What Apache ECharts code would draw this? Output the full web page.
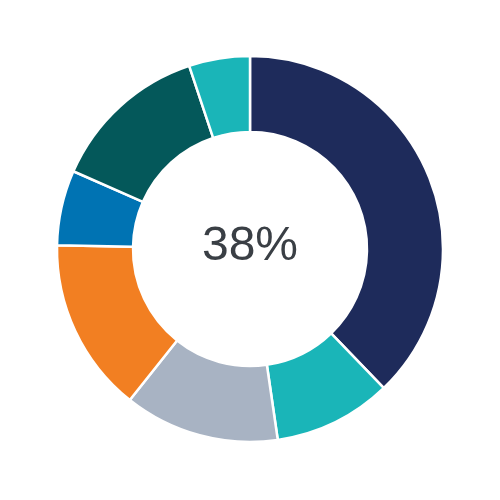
<!DOCTYPE html>
<html>
<head>
<meta charset="utf-8">
<script src="https://cdn.jsdelivr.net/npm/echarts@6/dist/echarts.min.js"></script>
<style>html,body{margin:0;padding:0;background:#fff}#c{width:500px;height:500px}</style>
</head>
<body>
<div id="c"></div>
<script>
const categories = ['A', 'B', 'C', 'D', 'E', 'F', 'G'];
const values = [37.8, 9.9, 13.0, 14.6, 6.3, 13.3, 5.1];
const colors = ['#1e2b5b', '#1ab5b8', '#a8b3c3', '#f27f22', '#0073b3', '#04585a', '#1ab5b8'];
const centerLabel = '38%';

const chart = echarts.init(document.getElementById('c'), null, {renderer: 'canvas'});
chart.setOption({
  animation: false,
  backgroundColor: '#ffffff',
  graphic: [{
    type: 'text',
    left: 'center',
    top: 223,
    style: {
      text: centerLabel,
      font: '48px "Liberation Sans", Arial, sans-serif',
      fill: '#3a3f45'
    }
  }],
  series: [{
    type: 'pie',
    center: [250, 249],
    radius: [117, 193],
    startAngle: 90,
    clockwise: true,
    label: {show: false},
    labelLine: {show: false},
    itemStyle: {borderColor: '#ffffff', borderWidth: 2.5},
    emphasis: {disabled: true},
    data: categories.map((c, i) => ({name: c, value: values[i], itemStyle: {color: colors[i]}}))
  }]
});
</script>
</body>
</html>
